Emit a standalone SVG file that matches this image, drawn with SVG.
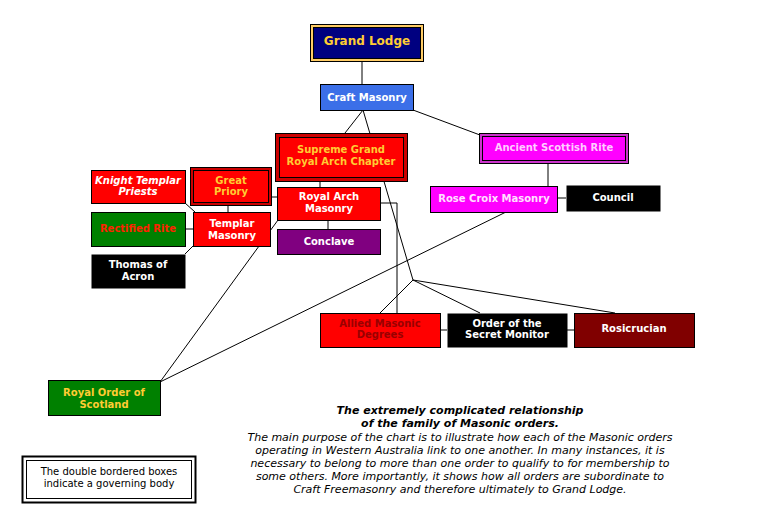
<svg xmlns="http://www.w3.org/2000/svg" width="757" height="512" viewBox="0 0 757 512">
<style>
text{font-family:Verdana,"DejaVu Sans",sans-serif;font-size:10px;font-weight:bold;text-anchor:middle}
.b{stroke:#000;stroke-width:1}
.w{fill:#fff}.y{fill:#ffcc33}
#conn line,#conn polyline{stroke:#000;stroke-width:1;fill:none}
.cap{font-size:11px;font-style:italic}
.body{font-size:11px;font-weight:normal;font-style:italic}
</style>
<rect width="757" height="512" fill="#fff"/>
<g id="conn">
<line x1="362" y1="60" x2="362" y2="84"/>
<line x1="363" y1="110" x2="345" y2="133"/>
<line x1="363" y1="110" x2="413" y2="280"/>
<line x1="413" y1="110" x2="480" y2="135"/>
<line x1="548" y1="163" x2="548" y2="186"/>
<line x1="557" y1="198" x2="566" y2="198"/>
<line x1="506" y1="212" x2="160" y2="382"/>
<line x1="413" y1="280" x2="380" y2="313"/>
<line x1="413" y1="280" x2="480" y2="313"/>
<line x1="413" y1="280" x2="615" y2="313"/>
<polyline points="380,203 397,203 397,313"/>
<line x1="320" y1="181" x2="320" y2="187"/>
<line x1="328" y1="220" x2="328" y2="229"/>
<line x1="271" y1="197" x2="277" y2="197"/>
<line x1="228" y1="205" x2="228" y2="212"/>
<line x1="185" y1="203" x2="195" y2="212"/>
<line x1="185" y1="229" x2="193" y2="229"/>
<line x1="185" y1="254" x2="193" y2="246"/>
<line x1="278" y1="220" x2="160" y2="382"/>
<line x1="440" y1="330" x2="447" y2="330"/>
<line x1="567" y1="330" x2="574" y2="330"/>
</g>
<g id="grand-lodge">
<rect x="310.5" y="24.5" width="113" height="37" fill="#ffcc66" stroke="#000"/>
<rect x="313.5" y="27.5" width="107" height="31" fill="#000080" stroke="#000"/>
<text x="367" y="45" class="y" style="font-size:12px">Grand Lodge</text>
</g>
<g id="craft"><rect x="320.5" y="84.5" width="93" height="26" fill="#3b6fe8" class="b"/><text x="367" y="101" class="w">Craft Masonry</text></g>
<g id="sgrac">
<rect x="275.5" y="133.5" width="132" height="48" fill="#cc0000" class="b"/>
<rect x="279.5" y="137.5" width="124" height="40" fill="#ff0000" class="b"/>
<text x="341" y="153" class="y">Supreme Grand</text><text x="341" y="165" class="y">Royal Arch Chapter</text>
</g>
<g id="asr">
<rect x="479.5" y="133.5" width="149" height="30" fill="#cc33cc" class="b"/>
<rect x="482.5" y="136.5" width="143" height="24" fill="#ff00ff" class="b"/>
<text x="554" y="151" fill="#ffccff">Ancient Scottish Rite</text>
</g>
<g id="rose-croix"><rect x="430.5" y="186.5" width="127" height="26" fill="#ff00ff" class="b"/><text x="494" y="202" fill="#ffe0ff">Rose Croix Masonry</text></g>
<g id="council"><rect x="566.5" y="185.5" width="94" height="26" fill="#000"/><text x="613" y="201" class="w">Council</text></g>
<g id="great-priory">
<rect x="190.5" y="167.5" width="81" height="38" fill="#cc0000" class="b"/>
<rect x="193.5" y="170.5" width="75" height="32" fill="#ff0000" class="b"/>
<text x="231" y="184" class="y">Great</text><text x="231" y="195" class="y">Priory</text>
</g>
<g id="ktp"><rect x="91.5" y="170.5" width="94" height="33" fill="#ff0000" class="b"/><text x="138" y="184" class="w" font-style="italic">Knight Templar</text><text x="138" y="195" class="w" font-style="italic">Priests</text></g>
<g id="rectified"><rect x="91.5" y="212.5" width="94" height="34" fill="#008000" class="b"/><text x="138" y="232" fill="#ff2200">Rectified Rite</text></g>
<g id="thomas"><rect x="91.5" y="254.5" width="94" height="34" fill="#000"/><text x="138" y="268" class="w">Thomas of</text><text x="138" y="280" class="w">Acron</text></g>
<g id="templar"><rect x="193.5" y="212.5" width="77" height="34" fill="#ff0000" class="b"/><text x="232" y="227" class="w">Templar</text><text x="232" y="239" class="w">Masonry</text></g>
<g id="royal-arch"><rect x="277.5" y="187.5" width="103" height="33" fill="#ff0000" class="b"/><text x="329" y="200" class="w">Royal Arch</text><text x="329" y="212" class="w">Masonry</text></g>
<g id="conclave"><rect x="277.5" y="229.5" width="103" height="25" fill="#800080" class="b"/><text x="329" y="245" class="w">Conclave</text></g>
<g id="allied"><rect x="320.5" y="313.5" width="120" height="34" fill="#ff0000" class="b"/><text x="380" y="327" fill="#990000" font-weight="normal">Allied Masonic</text><text x="380" y="338" fill="#990000" font-weight="normal">Degrees</text></g>
<g id="secret-monitor"><rect x="447.5" y="313.5" width="120" height="34" fill="#000"/><text x="507" y="327" class="w">Order of the</text><text x="507" y="338" class="w">Secret Monitor</text></g>
<g id="rosicrucian"><rect x="574.5" y="313.5" width="120" height="34" fill="#800000" class="b"/><text x="634" y="332" class="w">Rosicrucian</text></g>
<g id="ros"><rect x="48.5" y="380.5" width="112" height="35" fill="#008000" class="b"/><text x="104" y="396" class="y">Royal Order of</text><text x="104" y="408" class="y">Scotland</text></g>
<g id="legend">
<rect x="22.5" y="456.5" width="173" height="46" fill="#fff" stroke="#000" stroke-width="2"/>
<rect x="26.5" y="460.5" width="165" height="38" fill="none" stroke="#000"/>
<text x="109" y="475" style="font-weight:normal;font-size:10px">The double bordered boxes</text>
<text x="109" y="487" style="font-weight:normal;font-size:10px">indicate a governing body</text>
</g>
<g id="caption">
<text x="460" y="414" class="cap">The extremely complicated relationship</text>
<text x="460" y="427" class="cap">of the family of Masonic orders.</text>
<text x="460" y="441" class="body">The main purpose of the chart is to illustrate how each of the Masonic orders</text>
<text x="460" y="454" class="body">operating in Western Australia link to one another.  In many instances, it is</text>
<text x="460" y="467" class="body">necessary to belong to more than one order to qualify to for membership to</text>
<text x="460" y="480" class="body">some others.  More importantly, it shows how all orders are subordinate to</text>
<text x="460" y="493" class="body">Craft Freemasonry and therefore ultimately to Grand Lodge.</text>
</g>
</svg>
